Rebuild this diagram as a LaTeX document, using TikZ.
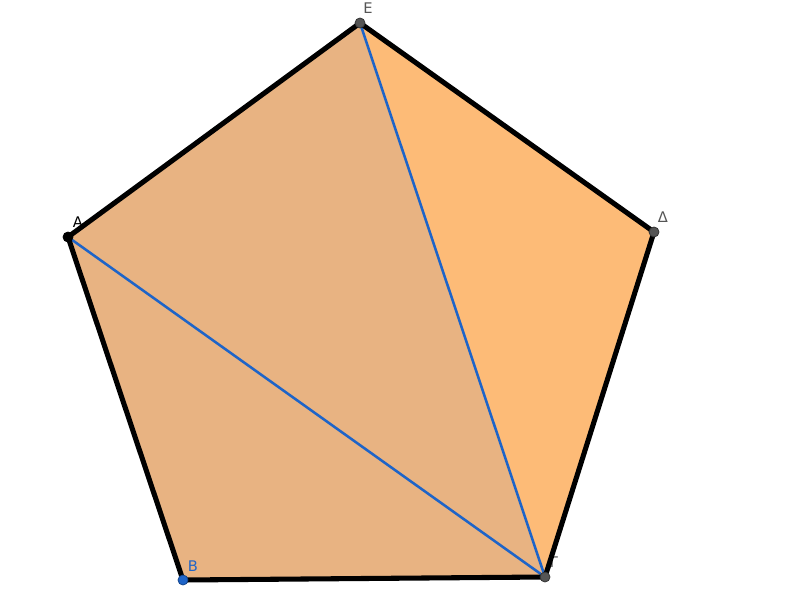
\documentclass[tikz,border=0pt]{standalone}
\usepackage{fontspec}
\setmainfont{DejaVu Sans}
\begin{document}
\begin{tikzpicture}[x=0.75pt,y=-0.75pt,
  edge/.style={line width=3.8pt,line cap=round,line join=round},
  diag/.style={draw=diagblue,line width=1.9pt},
  vdot/.style={circle,inner sep=0pt,minimum size=7.5pt,fill=dotgray,draw=black!80,line width=0.6pt},
  lbl/.style={font=\fontsize{11}{12}\selectfont,text=labgray,inner sep=0pt}]
\definecolor{fillA}{HTML}{E8B382}
\definecolor{fillB}{HTML}{FDBB77}
\definecolor{diagblue}{HTML}{1E64C8}
\definecolor{dotgray}{HTML}{555555}
\definecolor{labgray}{HTML}{555555}
\useasboundingbox (0,0) rectangle (791,613);
\coordinate (E) at (360,23);
\coordinate (D) at (654,232);
\coordinate (G) at (545,577);
\coordinate (B) at (183,580);
\coordinate (A) at (68,237);
\fill[fillB] (E) -- (D) -- (G) -- cycle;
\fill[fillA] (A) -- (E) -- (G) -- (B) -- cycle;
\node[lbl] (lG) at (554,562) {Γ};
\draw[diag] (A) -- (G);
\draw[diag] (E) -- (G);
\draw[edge] (A) -- (E) -- (D) -- (G) -- (B) -- cycle;
\node[vdot] (dE) at (E) {};
\node[vdot] (dD) at (D) {};
\node[vdot] (dG) at (G) {};
\node[vdot,fill=black,draw=black] (dA) at (A) {};
\node[vdot,fill=diagblue,draw=diagblue!70!black] (dB) at (B) {};
\node[lbl] (lE) at (368,8) {E};
\node[lbl] (lD) at (663,217) {Δ};
\node[lbl,text=black] (lA) at (78,222) {A};
\node[lbl,text=diagblue] (lB) at (193,566) {B};
\end{tikzpicture}
\end{document}
